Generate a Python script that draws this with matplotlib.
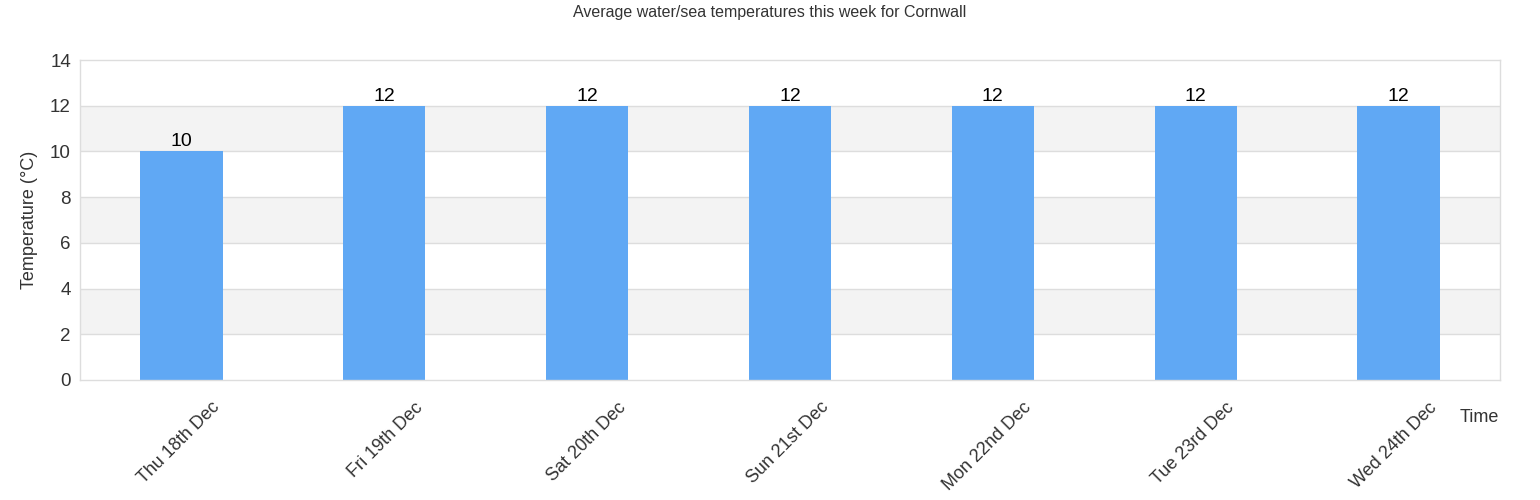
import matplotlib
matplotlib.use("Agg")
import matplotlib.pyplot as plt
from matplotlib.transforms import ScaledTranslation

categories = ["Thu 18th Dec", "Fri 19th Dec", "Sat 20th Dec", "Sun 21st Dec",
              "Mon 22nd Dec", "Tue 23rd Dec", "Wed 24th Dec"]
temps = [10, 12, 12, 12, 12, 12, 12]
yticks = [0, 2, 4, 6, 8, 10, 12, 14]

plt.rcParams['font.family'] = ['Liberation Sans', 'DejaVu Sans']

fig = plt.figure(figsize=(15.4, 5.0), dpi=100)
ax = fig.add_axes([80/1540, 120/500, 1420/1540, 320/500])

# alternating bands
for i in range(len(yticks) - 1):
    if i % 2 == 1:
        ax.axhspan(yticks[i], yticks[i+1], color='#f3f3f3', zorder=0, lw=0)
for y in yticks[1:-1]:
    ax.axhline(y, color='#dddddd', lw=1, zorder=1)

x = list(range(len(categories)))
bars = ax.bar(x, temps, width=0.405, color='#60a8f4', zorder=2)
for xi, v in zip(x, temps):
    ax.text(xi, v + 0.05, f"{v}", ha='center', va='bottom', fontsize=14, color='#000000', zorder=3)

ax.set_xlim(-0.5, len(categories) - 0.5)
ax.set_ylim(0, 14)
ax.set_yticks(yticks)
ax.set_yticklabels([str(t) for t in yticks], fontsize=13.5, color='#333333')
ax.set_xticks(x)
ax.set_xticklabels(categories, rotation=45, ha='right', rotation_mode='anchor',
                   fontsize=13, color='#333333')
ax.tick_params(axis='both', length=0)
ax.tick_params(axis='y', pad=6.5)
ax.tick_params(axis='x', pad=10)
offset = ScaledTranslation(0.30, -0.05, fig.dpi_scale_trans)
for lbl in ax.get_xticklabels():
    lbl.set_transform(lbl.get_transform() + offset)

for s in ax.spines.values():
    s.set_color('#dddddd')
    s.set_linewidth(1)

ax.set_ylabel("Temperature (°C)", fontsize=13, color='#333333', labelpad=9)
fig.text(1479/1540, 1 - 418/500, "Time", ha='center', va='center', fontsize=13, color='#333333')
fig.text(770/1540, 1 - 12/500, "Average water/sea temperatures this week for Cornwall",
         ha='center', va='center', fontsize=11.5, color='#333333')

fig.savefig("out.png", dpi=100)
